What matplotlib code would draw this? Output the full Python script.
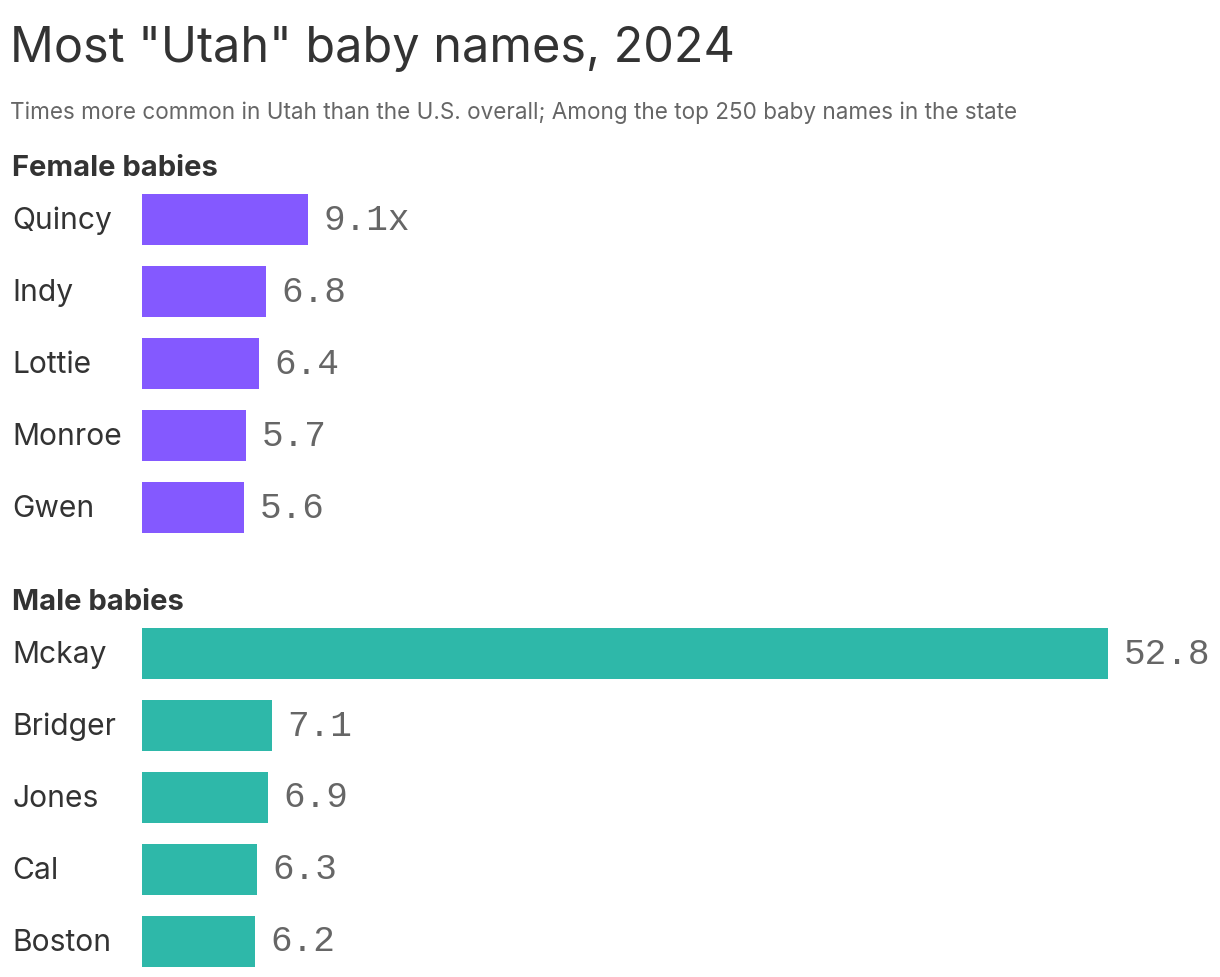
import matplotlib.pyplot as plt
from matplotlib.transforms import blended_transform_factory

# --- Data ---
female_names = ["Quincy", "Indy", "Lottie", "Monroe", "Gwen"]
female_values = [9.1, 6.8, 6.4, 5.7, 5.6]
male_names = ["Mckay", "Bridger", "Jones", "Cal", "Boston"]
male_values = [52.8, 7.1, 6.9, 6.3, 6.2]

title = 'Most "Utah" baby names, 2024'
subtitle = "Times more common in Utah than the U.S. overall; Among the top 250 baby names in the state"

# --- Style ---
W, H = 1220, 978
purple = "#8459FF"
teal = "#2EB8A9"
dark = "#333333"
grey = "#666666"
sans = ["Inter", "DejaVu Sans"]
mono = ["Liberation Mono", "DejaVu Sans Mono"]

fig = plt.figure(figsize=(W / 100, H / 100), dpi=100)


def px_x(x):
    return x / W


def px_y(y):
    return 1 - y / H


fig.text(px_x(10), px_y(62), title, fontsize=35, color=dark, family=sans, va="baseline")
fig.text(px_x(10), px_y(119), subtitle, fontsize=16.2, color=grey, family=sans, va="baseline")

# bar area: x from 142px to right edge, 52.8 ends at 1108px
scale = (1108 - 142) / 52.8
xmax = (W - 142) / scale
row = 72


def panel(top_px, names, values, color, header, header_base, suffix_first):
    ax = fig.add_axes([px_x(142), px_y(top_px + row * len(names)), (W - 142) / W, row * len(names) / H])
    ypos = list(range(len(names)))
    ax.barh(ypos, values, height=51 / row, color=color)
    ax.set_xlim(0, xmax)
    ax.set_ylim(len(names) - 0.5, -0.5)
    ax.axis("off")
    tr = blended_transform_factory(fig.transFigure, ax.transData)
    for i, (n, v) in enumerate(zip(names, values)):
        ax.text(px_x(12), i + 0.01, n, transform=tr, fontsize=21.6, color=dark, family=sans, va="center")
        lab = f"{v:.1f}x" if (i == 0 and suffix_first) else f"{v:.1f}"
        ax.annotate(lab, (v, i), xytext=(11, 0), textcoords="offset points", fontsize=26,
                    color=grey, family=mono, va="center", ha="left")
    fig.text(px_x(12), px_y(header_base), header, fontsize=21, fontweight="bold", color=dark,
             family=sans, va="baseline")
    return ax


panel(184, female_names, female_values, purple, "Female babies", 176, True)
panel(618, male_names, male_values, teal, "Male babies", 610, False)

fig.savefig("out.png", dpi=100)
